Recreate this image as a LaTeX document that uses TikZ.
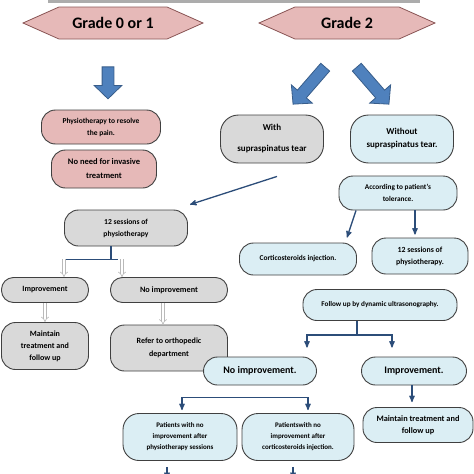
\documentclass[tikz,border=0pt]{standalone}
\usepackage{fontspec}
\setmainfont{Carlito}
\usepackage{tikz}
\usetikzlibrary{calc}
\usetikzlibrary{arrows,arrows.meta}
\usetikzlibrary{positioning}
\usetikzlibrary{shapes,shapes.symbols,shapes.arrows}
\definecolor{pinkfill}{HTML}{E6B9B8}
\definecolor{pinkline}{HTML}{8A5656}
\definecolor{grayfill}{HTML}{D9D9D9}
\definecolor{bluefill}{HTML}{DBEEF4}
\definecolor{boxline}{HTML}{404040}
\definecolor{linkblue}{HTML}{2C4D79}
\definecolor{fatblue}{HTML}{4F81BD}
\definecolor{fatline}{HTML}{385D8A}
\newcommand{\fs}[2]{\fontsize{#1}{#2}\selectfont}

\begin{document}
\begin{tikzpicture}[->,>=stealth',on grid,auto,
		grade/.style={signal,signal to=west and east,signal pointer angle=48,fill=pinkfill,draw=pinkline,line width=0.8pt,minimum width=180pt,minimum height=32pt,inner sep=0pt,font=\bfseries\fs{16}{18}},
		fat/.style={single arrow,fill=fatblue,draw=fatline,line width=0.8pt,inner sep=5.5pt,single arrow head extend=8pt,single arrow tip angle=92},
		box/.style={rectangle,rounded corners=14pt,draw=boxline,line width=0.9pt,align=center,inner sep=2pt},
		pinkbox/.style={box,fill=pinkfill},
		graybox/.style={box,fill=grayfill},
		bluebox/.style={box,fill=bluefill},
		link/.style={draw=linkblue,line width=1.3pt},
		hollow/.style={-{Implies},draw=gray!55,double=white,double distance=2.2pt,line width=0.6pt}]
		\useasboundingbox (0,0) rectangle (474pt,-474pt);
		\fill[gray!65] (48pt,0pt) rectangle (420pt,-2.5pt);
		
		\node[grade]  (g01)   at (113pt,-23pt)             {Grade 0 or 1};
		\node[grade,minimum width=176pt]  (g2)    [right=234pt of g01]         {Grade 2};
		
		\node[fat,rotate=270,minimum height=32pt] (arrA) at ($(g01)+(-5pt,-57pt)$) {};
		\node[fat,rotate=229,minimum height=49pt] (arrB) at ($(g2)+(-36pt,-60.5pt)$) {};
		\node[fat,rotate=311,minimum height=49pt] (arrC) at ($(g2)+(24pt,-60.5pt)$) {};
		
		\node[pinkbox,minimum width=119pt,minimum height=34pt,font=\bfseries\fs{7.5}{12}] (phys) [below=104pt of g01,xshift=-12pt] {Physiotherapy to resolve\\the pain.};
		\node[pinkbox,minimum width=105pt,minimum height=38pt,font=\bfseries\fs{8.5}{14}] (noinv) [below=42pt of phys,xshift=3pt] {No need for invasive\\treatment};
		\node[graybox,minimum width=103pt,minimum height=48pt,rounded corners=18pt,font=\bfseries\fs{9}{21}] (tear) [below=116pt of g2,xshift=-75pt] {With\\supraspinatus tear};
		\node[bluebox,minimum width=103pt,minimum height=48pt,rounded corners=18pt,font=\bfseries\fs{9}{13}] (notear) [right=130pt of tear] {Without\\supraspinatus tear.};
		\node[bluebox,minimum width=118pt,minimum height=34pt,font=\bfseries\fs{7.3}{12.5}] (tol) [below=54pt of notear,xshift=-4pt] {According to patient's\\tolerance.};
		\node[bluebox,minimum width=117pt,minimum height=32pt,font=\bfseries\fs{7.4}{12}] (cort) [below=66pt of tol,xshift=-100pt] {Corticosteroids injection.};
		\node[bluebox,minimum width=96pt,minimum height=36pt,font=\bfseries\fs{7.8}{12}] (sess2) [below=63pt of tol,xshift=22pt] {12 sessions of\\physiotherapy.};
		\node[graybox,minimum width=123pt,minimum height=36pt,font=\bfseries\fs{7.6}{12}] (sess) [below=59pt of noinv,xshift=22pt] {12 sessions of\\physiotherapy};
		\node[graybox,minimum width=87pt,minimum height=25pt,rounded corners=12pt,font=\bfseries\fs{8}{12}] (impr) [below=62pt of sess,xshift=-81pt] {Improvement};
		\node[graybox,minimum width=117pt,minimum height=25pt,rounded corners=12pt,font=\bfseries\fs{8.2}{12}] (noimpr) [right=124pt of impr] {No improvement};
		\node[graybox,minimum width=87pt,minimum height=47pt,font=\bfseries\fs{8}{12}] (maint) [below=56pt of impr] {Maintain\\treatment and\\follow up};
		\node[graybox,minimum width=117pt,minimum height=46pt,font=\bfseries\fs{8}{13}] (refer) [below=58pt of noimpr] {Refer to orthopedic\\department};
		\node[bluebox,minimum width=154pt,minimum height=31pt,font=\bfseries\fs{7.2}{12}] (follow) [below=46pt of cort,xshift=82pt] {Follow up by dynamic ultrasonography.};
		\node[bluebox,minimum width=113pt,minimum height=28pt,font=\bfseries\fs{10}{12}] (noimpr2) [below=66pt of follow,xshift=-120pt] {No improvement.};
		\node[bluebox,minimum width=105pt,minimum height=28pt,font=\bfseries\fs{10}{12}] (impr2) [right=154pt of noimpr2] {Improvement.};
		\node[bluebox,minimum width=110pt,minimum height=35pt,font=\bfseries\fs{8.3}{12}] (maint2) [below=54pt of impr2,xshift=4pt] {Maintain treatment and\\follow up};
		\node[bluebox,minimum width=114pt,minimum height=47pt,rounded corners=16pt,font=\bfseries\fs{7}{11}] (pphys) [below=66pt of noimpr2,xshift=-80pt] {Patients with no\\improvement after\\physiotherapy sessions};
		\node[bluebox,minimum width=112pt,minimum height=47pt,rounded corners=16pt,font=\bfseries\fs{7}{11}] (pcort) [right=118pt of pphys] {Patientswith no\\improvement after\\corticosteroids injection.};
		
		\coordinate (sesj) at ([xshift=-15pt,yshift=-13pt]sess.south);
		\coordinate (sesL) at ([xshift=-62pt,yshift=-13pt]sess.south);
		\coordinate (sesR) at ([xshift=-8pt,yshift=-13pt]sess.south);
		\coordinate (fuj) at ([xshift=-23pt,yshift=-14pt]follow.south);
		\coordinate (nij) at ([xshift=-15pt,yshift=-12pt]noimpr2.south);
		\coordinate (pphysout) at ([xshift=-13pt,yshift=-18pt]pphys.south);
		\coordinate (pcortout) at ([xshift=-5pt,yshift=-18pt]pcort.south);
		
		\draw[link] ([xshift=5pt,yshift=-13pt]tear.south) -- ([xshift=64pt,yshift=5pt]sess.north);
		\draw[link,-] ([xshift=-15pt]sess.south) -- (sesj);
		\draw[link,-] (sesL) -- (sesR);
		\draw[hollow] (sesL) -- ([xshift=19pt]impr.north);
		\draw[hollow] ([xshift=4pt]sesR) -- ([xshift=-47pt]noimpr.north);
		\draw[hollow] (impr) -- (maint);
		\draw[hollow] ([xshift=-6pt]noimpr.south) -- ([xshift=-6pt]refer.north);
		
		\draw[link] ([xshift=-42pt]tol.south) -- ([xshift=49pt,yshift=5pt]cort.north);
		\draw[link] ([xshift=17pt]tol.south) -- ([xshift=-5pt,yshift=3pt]sess2.north);
		
		\draw[link,-] ([xshift=-23pt]follow.south) -- (fuj);
		\draw[link] (fuj) -| ([xshift=47pt,yshift=9pt]noimpr2.north);
		\draw[link] (fuj) -| ([xshift=-22pt,yshift=9pt]impr2.north);
		\draw[link] ([xshift=-2pt]impr2.south) -- ([xshift=-6pt,yshift=5pt]maint2.north);
		\draw[link] (nij) -| ([xshift=2pt,yshift=3pt]pphys.north);
		\draw[link] (nij) -| ([xshift=10pt,yshift=3pt]pcort.north);
		\draw[link] ([xshift=-13pt,yshift=-6pt]pphys.south) -- (pphysout);
		\draw[link] ([xshift=-5pt,yshift=-6pt]pcort.south) -- (pcortout);
\end{tikzpicture}
\end{document}
